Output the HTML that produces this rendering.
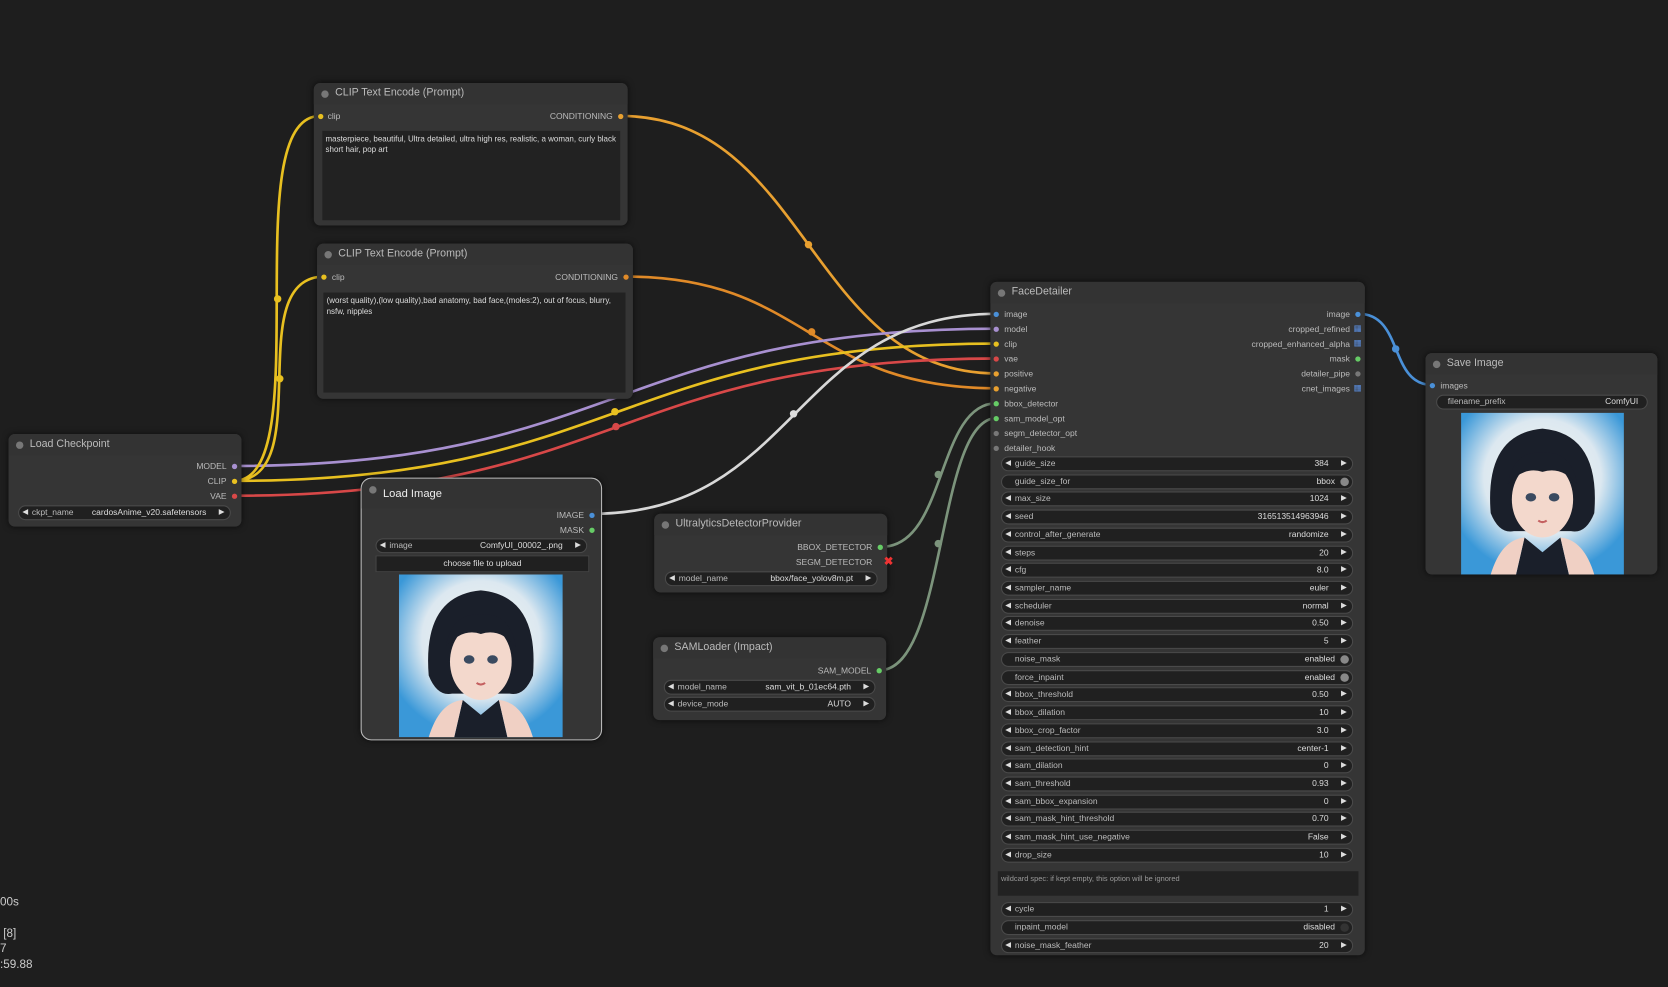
<!DOCTYPE html>
<html><head><meta charset="utf-8"><style>
html,body{margin:0;padding:0;background:#1d1d1d;overflow:hidden;width:1668px;height:987px}
#s{position:absolute;left:0;top:0;width:1568px;height:928px;transform:scale(1.06378);transform-origin:0 0;background:#1e1e1e;font-family:"Liberation Sans",sans-serif;color:#ccc}
.n{position:absolute;background:#353535;border-radius:6px;box-shadow:0 0 6px rgba(0,0,0,.6)}
.t{position:absolute;left:0;top:0;right:0;height:20px;background:#333;border-radius:6px 6px 0 0;font-size:10px;color:#bbb;line-height:20px;padding-left:20px}
.t:before{content:"";position:absolute;left:7px;top:7px;width:7px;height:7px;border-radius:50%;background:#777}
.a{position:absolute;font-size:8px;color:#bbb;white-space:nowrap}
.d{position:absolute;width:5px;height:5px;border-radius:50%}
.w{position:absolute;height:12px;background:#202020;border:1px solid #4a4a4a;border-radius:7px;font-size:8px;color:#ccc;line-height:12px}
.w .l{position:absolute;left:12px;color:#bbb}.w .v{position:absolute;right:22px;color:#ddd}
.w:before{content:"◀";position:absolute;left:3px;font-size:7px;color:#ddd}
.w:after{content:"▶";position:absolute;right:5px;font-size:7px;color:#ddd}
.w.tg:before,.w.tg:after{content:""}
.w.tg .v{right:16px}.w.tg i{position:absolute;right:3px;top:2px;width:8px;height:8px;border-radius:50%;background:#888}
.tx{position:absolute;background:#222;font-size:7.5px;color:#ddd;padding:3px;line-height:10px;box-sizing:border-box}
</style></head><body><div id="s">
<svg width="0" height="0" style="position:absolute"><defs><radialGradient id="g" cx=".5" cy=".4" r=".6"><stop offset="0" stop-color="#f4f4f0"/><stop offset=".6" stop-color="#dce8f0"/><stop offset="1" stop-color="#3a98d8"/></radialGradient>
<g id="p"><rect width="154" height="153" fill="url(#g)"/><path d="M28 95 Q22 20 77 15 Q132 20 126 95 Q118 115 104 112 L50 112 Q36 115 28 95Z" fill="#1a1f2a"/><ellipse cx="77" cy="82" rx="29" ry="36" fill="#f3d8cc"/><path d="M44 68 Q50 35 77 38 Q104 35 110 68 Q95 50 77 56 Q60 50 44 68Z" fill="#1a1f2a"/><ellipse cx="66" cy="80" rx="5" ry="4" fill="#3a4a60"/><ellipse cx="88" cy="80" rx="5" ry="4" fill="#3a4a60"/><path d="M73 102 Q77 105 81 102" stroke="#c46060" stroke-width="2" fill="none"/><path d="M52 153 L60 118 L77 132 L94 118 L102 153Z" fill="#1a1f2a"/><path d="M28 153 Q38 120 60 118 L52 153Z M126 153 Q116 120 94 118 L102 153Z" fill="#f0d0c4"/></g></defs></svg>
<svg width="1568" height="928" style="position:absolute;left:0;top:0" fill="none" stroke-width="2.5">
<path d="M583 109 C760 109,760 351,937 351" stroke="#e8a030"/>
<path d="M588 260 C760 260,760 365,937 365" stroke="#e08a28"/>
<path d="M220 438 C580 438,580 309,937 309" stroke="#a890d0"/>
<path d="M220 452 C580 452,580 323,937 323" stroke="#e8c020"/>
<path d="M220 466 C580 466,580 337,937 337" stroke="#d84848"/>
<path d="M220 452 C300 452,220 109,301 109" stroke="#e8c020"/>
<path d="M220 452 C300 452,225 260,305 260" stroke="#e8c020"/>
<path d="M556 483 C750 483,745 295,937 295" stroke="#d8d8d8"/>
<path d="M829 514 C890 514,880 379,937 379" stroke="#7c947c"/>
<path d="M827 630 C890 630,880 393,937 393" stroke="#7c947c"/>
<path d="M1277 295 C1320 295,1305 362,1347 362" stroke="#4a90d8"/>
<g stroke="none"><circle cx="760" cy="230" r="3.5" fill="#e8a030"/><circle cx="763" cy="312" r="3.5" fill="#e08a28"/><circle cx="578" cy="387" r="3.5" fill="#e8c020"/><circle cx="579" cy="401" r="3.5" fill="#d84848"/><circle cx="746" cy="389" r="3.5" fill="#ddd"/><circle cx="261" cy="281" r="3.5" fill="#e8c020"/><circle cx="263" cy="356" r="3.5" fill="#e8c020"/><circle cx="882" cy="446" r="3.5" fill="#7c947c"/><circle cx="882" cy="511" r="3.5" fill="#7c947c"/><circle cx="1312" cy="328" r="3.5" fill="#4a90d8"/></g>
</svg>

<div class="n" style="left:295px;top:78px;width:295px;height:134px"><div class="t">CLIP Text Encode (Prompt)</div>
<div class="d" style="left:4px;top:29px;background:#e8c020"></div><div class="a" style="left:13px;top:27px">clip</div>
<div class="a" style="right:14px;top:27px">CONDITIONING</div><div class="d" style="right:4px;top:29px;background:#e8a030"></div>
<div class="tx" style="left:8px;top:45px;width:280px;height:84px">masterpiece, beautiful, Ultra detailed, ultra high res, realistic, a woman, curly black short hair, pop art</div></div>

<div class="n" style="left:298px;top:229px;width:297px;height:146px"><div class="t">CLIP Text Encode (Prompt)</div>
<div class="d" style="left:4px;top:29px;background:#e8c020"></div><div class="a" style="left:14px;top:27px">clip</div>
<div class="a" style="right:14px;top:27px">CONDITIONING</div><div class="d" style="right:4px;top:29px;background:#e08a28"></div>
<div class="tx" style="left:6px;top:46px;width:284px;height:94px">(worst quality),(low quality),bad anatomy, bad face,(moles:2), out of focus, blurry, nsfw, nipples</div></div>

<div class="n" style="left:8px;top:408px;width:219px;height:87px"><div class="t">Load Checkpoint</div>
<div class="a" style="right:14px;top:26px">MODEL</div><div class="d" style="right:4px;top:28px;background:#a890d0"></div>
<div class="a" style="right:14px;top:40px">CLIP</div><div class="d" style="right:4px;top:42px;background:#e8c020"></div>
<div class="a" style="right:14px;top:54px">VAE</div><div class="d" style="right:4px;top:56px;background:#d84848"></div>
<div class="w" style="left:9px;top:67px;width:198px"><span class="l">ckpt_name</span><span class="v">cardosAnime_v20.safetensors</span></div></div>

<div class="n" style="left:339px;top:449px;width:227px;height:247px;border:1.5px solid #bbb;box-sizing:border-box;border-radius:10px"><div class="t" style="color:#eee;font-size:10.5px;border-radius:10px 10px 0 0;height:28px;line-height:28px">Load Image</div>
<div class="a" style="right:16px;top:30px">IMAGE</div><div class="d" style="right:6px;top:32px;background:#4a90d8"></div>
<div class="a" style="right:16px;top:44px">MASK</div><div class="d" style="right:6px;top:46px;background:#6c6"></div>
<div class="w" style="left:13px;top:56px;width:197px"><span class="l">image</span><span class="v">ComfyUI_00002_.png</span></div>
<div style="position:absolute;left:13px;top:72px;width:199px;height:14px;background:#202020;border:1px solid #444;font-size:8px;text-align:center;line-height:14px;color:#ddd">choose file to upload</div>
<svg style="position:absolute;left:35px;top:90px" width="154" height="153" viewBox="0 0 154 153"><use href="#p"/></svg></div>

<div class="n" style="left:615px;top:483px;width:219px;height:74px"><div class="t">UltralyticsDetectorProvider</div>
<div class="a" style="right:14px;top:27px">BBOX_DETECTOR</div><div class="d" style="right:4px;top:29px;background:#6c6"></div>
<div class="a" style="right:14px;top:41px">SEGM_DETECTOR</div><div class="a" style="right:-6px;top:38px;color:#e33;font-size:11px;font-weight:bold">✖</div>
<div class="w" style="left:10px;top:54px;width:198px"><span class="l">model_name</span><span class="v">bbox/face_yolov8m.pt</span></div></div>

<div class="n" style="left:614px;top:599px;width:219px;height:78px"><div class="t">SAMLoader (Impact)</div>
<div class="a" style="right:14px;top:27px">SAM_MODEL</div><div class="d" style="right:4px;top:29px;background:#6c6"></div>
<div class="w" style="left:10px;top:40px;width:197px"><span class="l">model_name</span><span class="v">sam_vit_b_01ec64.pth</span></div>
<div class="w" style="left:10px;top:56px;width:197px"><span class="l">device_mode</span><span class="v">AUTO</span></div></div>

<div class="n" style="left:1340px;top:332px;width:218px;height:208px"><div class="t">Save Image</div>
<div class="d" style="left:4px;top:28px;background:#4a90d8"></div><div class="a" style="left:14px;top:26px">images</div>
<div class="w tg" style="left:10px;top:39px;width:197px"><span class="l" style="left:10px">filename_prefix</span><span class="v" style="right:8px">ComfyUI</span></div>
<svg style="position:absolute;left:33px;top:56px" width="154" height="152" viewBox="0 0 154 153"><use href="#p"/></svg></div>

<div class="n" style="left:931px;top:265px;width:352px;height:633px"><div class="t">FaceDetailer</div>
<div class="d" style="left:3px;top:28px;background:#4a90d8"></div><div class="a" style="left:13px;top:26px">image</div>
<div class="d" style="left:3px;top:42px;background:#a890d0"></div><div class="a" style="left:13px;top:40px">model</div>
<div class="d" style="left:3px;top:56px;background:#e8c020"></div><div class="a" style="left:13px;top:54px">clip</div>
<div class="d" style="left:3px;top:70px;background:#d84848"></div><div class="a" style="left:13px;top:68px">vae</div>
<div class="d" style="left:3px;top:84px;background:#e8a030"></div><div class="a" style="left:13px;top:82px">positive</div>
<div class="d" style="left:3px;top:98px;background:#e8a030"></div><div class="a" style="left:13px;top:96px">negative</div>
<div class="d" style="left:3px;top:112px;background:#6c6"></div><div class="a" style="left:13px;top:110px">bbox_detector</div>
<div class="d" style="left:3px;top:126px;background:#6c6"></div><div class="a" style="left:13px;top:124px">sam_model_opt</div>
<div class="d" style="left:3px;top:140px;background:#777"></div><div class="a" style="left:13px;top:138px">segm_detector_opt</div>
<div class="d" style="left:3px;top:154px;background:#777"></div><div class="a" style="left:13px;top:152px">detailer_hook</div>
<div class="a" style="right:14px;top:26px">image</div><div class="d" style="right:4px;top:28px;background:#4a90d8"></div>
<div class="a" style="right:14px;top:40px">cropped_refined</div><div class="a" style="right:3px;top:39px;color:#5a8ee0">▦</div>
<div class="a" style="right:14px;top:54px">cropped_enhanced_alpha</div><div class="a" style="right:3px;top:53px;color:#5a8ee0">▦</div>
<div class="a" style="right:14px;top:68px">mask</div><div class="d" style="right:4px;top:70px;background:#6c6"></div>
<div class="a" style="right:14px;top:82px">detailer_pipe</div><div class="d" style="right:4px;top:84px;background:#777"></div>
<div class="a" style="right:14px;top:96px">cnet_images</div><div class="a" style="right:3px;top:95px;color:#5a8ee0">▦</div>
<div class="w" style="left:10px;top:164px;width:329px"><span class="l">guide_size</span><span class="v">384</span></div>
<div class="w tg" style="left:10px;top:181px;width:329px"><span class="l">guide_size_for</span><span class="v">bbox</span><i></i></div>
<div class="w" style="left:10px;top:197px;width:329px"><span class="l">max_size</span><span class="v">1024</span></div>
<div class="w" style="left:10px;top:214px;width:329px"><span class="l">seed</span><span class="v">316513514963946</span></div>
<div class="w" style="left:10px;top:231px;width:329px"><span class="l">control_after_generate</span><span class="v">randomize</span></div>
<div class="w" style="left:10px;top:248px;width:329px"><span class="l">steps</span><span class="v">20</span></div>
<div class="w" style="left:10px;top:264px;width:329px"><span class="l">cfg</span><span class="v">8.0</span></div>
<div class="w" style="left:10px;top:281px;width:329px"><span class="l">sampler_name</span><span class="v">euler</span></div>
<div class="w" style="left:10px;top:298px;width:329px"><span class="l">scheduler</span><span class="v">normal</span></div>
<div class="w" style="left:10px;top:314px;width:329px"><span class="l">denoise</span><span class="v">0.50</span></div>
<div class="w" style="left:10px;top:331px;width:329px"><span class="l">feather</span><span class="v">5</span></div>
<div class="w tg" style="left:10px;top:348px;width:329px"><span class="l">noise_mask</span><span class="v">enabled</span><i></i></div>
<div class="w tg" style="left:10px;top:365px;width:329px"><span class="l">force_inpaint</span><span class="v">enabled</span><i></i></div>
<div class="w" style="left:10px;top:381px;width:329px"><span class="l">bbox_threshold</span><span class="v">0.50</span></div>
<div class="w" style="left:10px;top:398px;width:329px"><span class="l">bbox_dilation</span><span class="v">10</span></div>
<div class="w" style="left:10px;top:415px;width:329px"><span class="l">bbox_crop_factor</span><span class="v">3.0</span></div>
<div class="w" style="left:10px;top:432px;width:329px"><span class="l">sam_detection_hint</span><span class="v">center-1</span></div>
<div class="w" style="left:10px;top:448px;width:329px"><span class="l">sam_dilation</span><span class="v">0</span></div>
<div class="w" style="left:10px;top:465px;width:329px"><span class="l">sam_threshold</span><span class="v">0.93</span></div>
<div class="w" style="left:10px;top:482px;width:329px"><span class="l">sam_bbox_expansion</span><span class="v">0</span></div>
<div class="w" style="left:10px;top:498px;width:329px"><span class="l">sam_mask_hint_threshold</span><span class="v">0.70</span></div>
<div class="w" style="left:10px;top:515px;width:329px"><span class="l">sam_mask_hint_use_negative</span><span class="v">False</span></div>
<div class="w" style="left:10px;top:532px;width:329px"><span class="l">drop_size</span><span class="v">10</span></div>
<div class="tx" style="left:7px;top:554px;width:339px;height:23px;color:#999;font-size:7px">wildcard spec: if kept empty, this option will be ignored</div>
<div class="w" style="left:10px;top:583px;width:329px"><span class="l">cycle</span><span class="v">1</span></div>
<div class="w tg" style="left:10px;top:600px;width:329px"><span class="l">inpaint_model</span><span class="v">disabled</span><i style="background:#333"></i></div>
<div class="w" style="left:10px;top:617px;width:329px"><span class="l">noise_mask_feather</span><span class="v">20</span></div>
</div>

<div class="a" style="left:0;top:842px;font-size:11px;color:#ccc">00s</div>
<div class="a" style="left:3px;top:872px;font-size:11px;color:#ccc">[8]</div>
<div class="a" style="left:0;top:886px;font-size:11px;color:#ccc">7</div>
<div class="a" style="left:0;top:901px;font-size:11px;color:#ccc">:59.88</div>
</div></body></html>
